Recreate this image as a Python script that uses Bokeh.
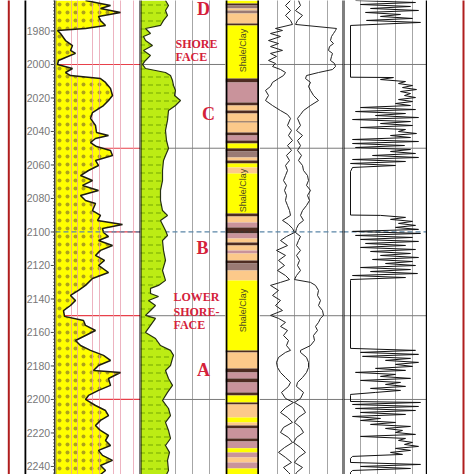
import numpy as np
from bokeh.plotting import figure
from bokeh.layouts import row
from bokeh.models import Range1d
from bokeh.core.properties import value
from bokeh.embed import file_html
from bokeh.resources import INLINE

# ---------------- data ----------------
depth_ticks = list(range(1980, 2241, 20))
depth_tick_labels = [str(d) for d in depth_ticks]
zone_tops = [2000, 2050, 2150, 2200]
gr_markers = [2000, 2050, 2100, 2150, 2200]
flood_surface = [2100]

gr_depth = [1961.8,1964.8,1966.6,1969.0,1971.3,1973.7,1976.7,1978.5,1979.7,1981.5,
            1985.7,1988.7,1991.6,1993.4,1995.8,1997.6,2000.0,2002.4,2004.8,2006.6,
            2008.4,2010.7,2014.3,2018.5,2021.5,2024.5,2028.7,2032.2,2036.4,2040.6,
            2042.4,2044.2,2046.6,2049.0,2051.3,2054.3,2057.3,2060.3,2063.3,2066.3,
            2069.3,2072.2,2075.2,2078.2,2081.2,2083.0,2087.2,2090.1,2093.1,2095.5,
            2097.9,2100.3,2102.7,2105.1,2108.1,2111.0,2114.0,2117.0,2120.0,2124.2,
            2127.8,2131.9,2134.9,2137.9,2140.9,2143.9,2146.9,2150.4,2152.8,2155.8,
            2158.8,2161.8,2164.8,2167.8,2170.7,2173.7,2176.7,2179.7,2182.7,2183.9,
            2187.5,2191.6,2194.6,2197.6,2200.0,2203.6,2206.6,2209.6,2212.5,2215.5,
            2218.5,2221.5,2224.5,2227.5,2230.4,2233.4,2236.4,2239.4,2242.4,2244.8]
gr_api = [60,110,90,130,86,90,100,60,4,10,
          20,34,30,40,20,6,4,34,20,30,
          90,100,110,114,106,96,74,70,80,82,
          106,80,70,82,110,114,80,86,66,50,
          74,54,86,50,60,80,74,90,84,134,
          94,96,106,86,114,90,80,98,86,106,
          74,60,46,30,40,30,16,18,56,60,
          80,60,40,50,70,96,110,86,76,130,
          106,110,86,66,60,80,100,106,90,80,
          90,106,100,110,86,94,114,90,100,90]

sp_depth = [1961.8,1964.8,1967.8,1970.7,1973.7,1976.7,1978.5,1981.5,1983.3,1985.7,
            1988.7,1991.6,1994.6,1997.6,2000.0,2002.4,2004.8,2006.6,2009.6,2012.5,
            2015.5,2018.5,2021.5,2024.5,2027.5,2033.4,2039.4,2045.4,2050.1,2054.3,
            2057.3,2063.3,2069.3,2075.2,2081.2,2087.2,2090.1,2093.1,2099.1,2102.1,
            2105.1,2111.0,2117.0,2123.0,2128.9,2131.9,2133.7,2136.7,2138.5,2140.9,
            2143.9,2146.9,2149.8,2151.6,2155.8,2160.0,2163.6,2167.8,2170.7,2173.7,
            2175.5,2179.7,2182.7,2187.5,2191.6,2195.8,2200.6,2205.4,2209.6,2213.7,
            2218.5,2223.3,2227.5,2231.6,2236.4,2242.4,2244.8]
sp_val = [50,56,50,54,46,40,10,20,6,10,
          24,6,20,10,4,10,50,60,64,66,
          70,68,80,70,56,54,50,52,56,50,
          46,44,44,40,40,44,54,40,50,54,
          44,46,50,44,50,36,20,20,36,16,
          30,20,10,30,20,10,30,40,60,66,
          64,60,50,56,64,54,44,56,60,50,
          56,60,50,58,54,56,52]

nd_depth = [1961.8,1964.8,1967.8,1970.7,1973.7,1976.1,1978.5,1979.7,1981.5,1983.3,
            1985.7,1987.5,1989.3,1991.6,1993.4,1995.2,1997.6,1999.4,2001.2,2003.0,
            2004.8,2006.6,2008.4,2010.7,2013.1,2015.5,2018.5,2021.5,2024.5,2027.5,
            2029.9,2032.2,2036.4,2039.4,2042.4,2045.4,2048.4,2051.3,2054.3,2057.3,
            2060.3,2063.3,2066.3,2069.3,2072.2,2075.2,2078.2,2081.2,2084.2,2087.2,
            2090.1,2093.1,2095.5,2097.9,2100.3,2102.7,2105.1,2108.1,2111.0,2114.0,
            2117.0,2120.0,2123.0,2126.0,2128.4,2130.1,2131.9,2134.9,2137.9,2140.9,
            2143.9,2146.9,2149.8,2151.6,2154.0,2156.4,2158.8,2161.8,2164.8,2167.8,
            2170.7,2171.9,2174.9,2177.9,2180.9,2183.9,2186.9,2189.8,2192.2,2195.8,
            2199.4,2201.8,2204.8,2207.8,2210.7,2213.7,2216.7,2219.7,2222.7,2225.7,
            2228.7,2231.6,2234.6,2237.6,2240.6,2243.6,2244.8]
left_curve = [62,52,62,52,62,66,32,46,22,42,
              18,38,22,46,22,34,18,32,26,42,
              52,48,38,26,22,12,18,12,26,42,
              56,62,56,64,58,66,56,64,54,60,
              52,56,52,48,54,50,54,52,56,60,
              62,46,58,66,70,54,42,56,34,52,
              38,50,36,52,60,42,22,38,26,42,
              32,46,22,38,52,42,56,48,58,54,
              62,52,38,34,36,42,52,62,58,44,
              52,68,52,42,56,66,48,42,58,66,
              50,38,52,64,48,58,62]
right_curve = [78,82,72,86,76,72,154,152,148,144,
               142,148,140,138,146,144,142,150,152,146,
               118,94,92,102,98,102,108,118,102,88,
               82,76,82,74,86,76,82,76,84,78,
               86,88,96,98,94,102,96,100,94,86,
               82,88,78,74,72,82,78,74,82,74,
               80,76,82,74,70,102,112,118,116,122,
               118,126,128,122,118,112,116,108,110,102,
               82,82,94,98,98,94,86,76,74,88,
               82,70,86,92,78,70,82,88,74,68,
               82,92,78,70,86,74,72]

res_seg_top = [1961.8, 1976.7, 2007.8, 2063.9, 2090.1, 2128.9, 2170.7, 2197.6, 2201.8, 2235.2, 2238.8]
res_seg_base = [1974.9, 2007.6, 2061.5, 2089.9, 2128.4, 2169.5, 2197.0, 2201.2, 2234.0, 2237.6, 2244.8]
res_seg_values = [
    [24,144,34,134,54,150,44,114,74,138,46,154],
    [14,14],
    [100,74,124,110,138,118,146,114,134,122,144,110,138,104,134,34,144,24,124,64,
     150,18,134,74,138,34,124,110,146,94,134,18,150,18,122,24,134,94,144,58,
     150,18,124,14,104,18],
    [14,14],
    [74,124,94,138,110,144,104,150,18,154,24,138,34,150,44,124,34,144,54,134,
     74,150,58,138,84,144,34,134,54,148,18,124,14],
    [14,14],
    [144,34,150,38,134,84,150,104,138,64,124,24,104,74,134,34,114,84,124,54,114,64,14],
    [14,14],
    [154,18,150,24,144,34,124,18,74,34,104,54,134,84,118,104,144,34,124,110,
     138,122,150,104,134,94,118,18],
    [14,14],
    [154,34,134,18,14,14],
]

litho_top = [1961.8,1963.6,1964.8,1966.6,1967.8,1969.6,1975.5,1976.7,2008.4,2010.7,
             2022.7,2024.5,2027.5,2029.3,2034.0,2034.6,2040.6,2042.4,2045.4,2047.2,
             2050.1,2051.9,2055.5,2057.3,2059.1,2061.5,2065.1,2089.0,2090.7,2094.3,
             2097.3,2100.9,2103.9,2106.3,2108.1,2111.0,2112.8,2117.0,2118.8,2123.0,
             2128.9,2170.7,2171.9,2181.5,2183.9,2187.5,2189.8,2195.8,2197.6,2201.8,
             2203.0,2210.7,2213.7,2215.5,2217.3,2223.3,2225.1,2229.2,2231.6,2234.6,
             2237.6,2241.2]
litho_base_depth = 2244.8
litho_type = ["Y","D","G","T","G","T","D","Y","D","M",
              "D","T","D","T","D","T","D","M","D","Y",
              "D","G","T","D","Y","T","Y","D","T","M",
              "D","M","T","D","T","M","T","D","G","T",
              "Y","D","T","D","M","D","M","D","Y","D",
              "T","Y","T","D","M","D","M","Y","M","T",
              "M","Y"]
litho_colors = {"Y": "#ffff00", "T": "#fcc98a", "M": "#c9939b", "D": "#4e2c22", "G": "#9a7a74"}
litho_label_depth = [1991.6, 2075.2, 2146.9]
litho_label_text = ["Shale/Clay", "Shale/Clay", "Shale/Clay"]

zone_letter_text = ["D", "C", "B", "A"]
zone_letter_depth = [1966.8, 2029.3, 2109.8, 2182.7]
zone_letter_x = [126, 136, 124, 126]
zone_word_text = ["SHORE", "FACE", "LOWER", "SHORE-", "FACE"]
zone_word_depth = [1987.5, 1995.8, 2139.1, 2147.5, 2155.8]
zone_word_x = [70, 70, 66, 66, 66]

gr_grid = [32, 44, 74, 88, 116, 130, 156]
sp_grid = [70, 104, 138]
nd_grid = [36, 70, 100, 136]
res_grid = [34, 68, 104, 138]

# ---------------- layout ----------------
H = 474
TOP, BASE = 1961.8, 2244.8
YR = Range1d(BASE, TOP)
YL = [1955.0, 2250.0]


def track(width, xmax):
    p = figure(width=width, height=H, x_range=Range1d(0, xmax), y_range=YR,
               toolbar_location=None, output_backend="svg",
               x_axis_location=None, y_axis_location=None, min_border=0)
    p.xgrid.visible = False
    p.ygrid.visible = False
    p.outline_line_color = None
    p.background_fill_color = "white"
    p.border_fill_color = "white"
    return p


def vlines(p, xs, color, width=1, alpha=1.0):
    p.segment(x0=xs, x1=xs, y0=[YL[0]] * len(xs), y1=[YL[1]] * len(xs),
              line_color=color, line_width=width, line_alpha=alpha)


def hlines(p, ys, x0, x1, color, width=1, dash="solid", alpha=1.0):
    p.segment(x0=[x0] * len(ys), x1=[x1] * len(ys), y0=ys, y1=ys,
              line_color=color, line_width=width, line_dash=dash, line_alpha=alpha)


DASH_C = "#5b86a8"
GRID_C = "#a6a6a6"
ZONE_C = "#7a7a7a"

# left margin with red frame line
f0 = track(24, 24)
vlines(f0, [8.3], "#b01e1e", 2)

# depth track
f1 = track(31, 31)
vlines(f1, [0.6], "black", 2.4)
vlines(f1, [30.4], "black", 1.4)
minor = np.arange(1962, 2246, 2)
f1.segment(x0=[28.6] * len(minor), x1=[31] * len(minor), y0=minor, y1=minor,
           line_color="#333333", line_width=0.8)
f1.segment(x0=[26.3] * len(depth_ticks), x1=[31] * len(depth_ticks), y0=depth_ticks, y1=depth_ticks,
           line_color="#555555", line_width=1)
f1.text(x=[25.6] * len(depth_ticks), y=depth_ticks, text=depth_tick_labels,
        text_align="right", text_baseline="middle", text_font=value("Liberation Sans"),
        text_font_size="10.5px", text_color="#777777")

# GR track
f2 = track(85, 170)
hlines(f2, gr_markers, 0, 170, "#e8404a", 1.2)
f2.harea(x1=np.zeros(len(gr_api)), x2=gr_api, y=gr_depth, fill_color="#ffff00",
         hatch_pattern="dot", hatch_color="#9a8c20", hatch_scale=8, hatch_weight=1.5, hatch_alpha=0.8)
vlines(f2, gr_grid, "#e79aab", 1, 0.75)
f2.line(gr_api, gr_depth, line_color="#1e1e10", line_width=1.5)
hlines(f2, flood_surface, 0, 170, DASH_C, 1.2, "5 3")
vlines(f2, [0.4], "black", 1)
vlines(f2, [170], "black", 2)

# SP / shale track with zone labels
f3 = track(85, 170)
vlines(f3, sp_grid, GRID_C, 1)
hlines(f3, zone_tops, 0, 170, ZONE_C, 1)
hlines(f3, flood_surface, 0, 170, DASH_C, 1.2, "5 3")
f3.harea(x1=np.zeros(len(sp_val)), x2=sp_val, y=sp_depth, fill_color="#bcec14",
         hatch_pattern="horizontal_dash", hatch_color="#6c9e00", hatch_scale=8, hatch_weight=1, hatch_alpha=0.9)
f3.line(sp_val, sp_depth, line_color="#263010", line_width=1.2)
vlines(f3, [0], "black", 2)
f3.text(x=zone_letter_x, y=zone_letter_depth, text=zone_letter_text, text_align="center",
        text_baseline="middle", text_font=value("Liberation Serif"), text_font_style="bold",
        text_font_size="18px", text_color="#d4213a")
f3.text(x=zone_word_x, y=zone_word_depth, text=zone_word_text, text_align="left",
        text_baseline="middle", text_font=value("Liberation Serif"), text_font_style="bold",
        text_font_size="12px", text_color="#d4213a")

# lithology column
f4 = track(34, 34)
hlines(f4, zone_tops, 0, 34, ZONE_C, 1)
litho_base = litho_top[1:] + [litho_base_depth]
f4.quad(left=0, right=34, top=litho_top, bottom=litho_base,
        fill_color=[litho_colors[t] for t in litho_type], line_color=None)
hlines(f4, flood_surface, 0, 34, "#333333", 1, "3 2")
f4.text(x=[17] * len(litho_label_depth), y=litho_label_depth, text=litho_label_text,
        angle=np.pi / 2, text_align="center", text_baseline="middle",
        text_font=value("Liberation Sans"), text_font_size="9px", text_color="#4e4a22")
vlines(f4, [0.9], "black", 2)
vlines(f4, [33.0], "black", 2.4)

# neutron / density style track
f5 = track(84, 168)
vlines(f5, nd_grid, GRID_C, 1)
hlines(f5, zone_tops, 0, 168, ZONE_C, 1)
hlines(f5, flood_surface, 0, 168, DASH_C, 1.2, "5 3")
f5.line(left_curve, nd_depth, line_color="#222222", line_width=1)
f5.line(right_curve, nd_depth, line_color="#222222", line_width=1)
vlines(f5, [168], "black", 2)

# resistivity track
f6 = track(84, 168)
vlines(f6, res_grid, GRID_C, 1)
hlines(f6, zone_tops, 0, 168, ZONE_C, 1)
hlines(f6, flood_surface, 0, 168, DASH_C, 1.2, "5 3")
res_depth = np.concatenate([np.linspace(t, b, len(v)) for t, b, v in zip(res_seg_top, res_seg_base, res_seg_values)])
res_val = np.concatenate([np.array(v, dtype=float) for v in res_seg_values])
f6.line(res_val, res_depth, line_color="#111111", line_width=1)
vlines(f6, [0], "black", 2)
vlines(f6, [166.6], "black", 2)

# right margin with red frame line
f7 = track(47, 47)
vlines(f7, [36], "#b01e1e", 2)

layout = row(f0, f1, f2, f3, f4, f5, f6, f7, spacing=0)
open("out.html", "w").write(file_html(layout, INLINE))
